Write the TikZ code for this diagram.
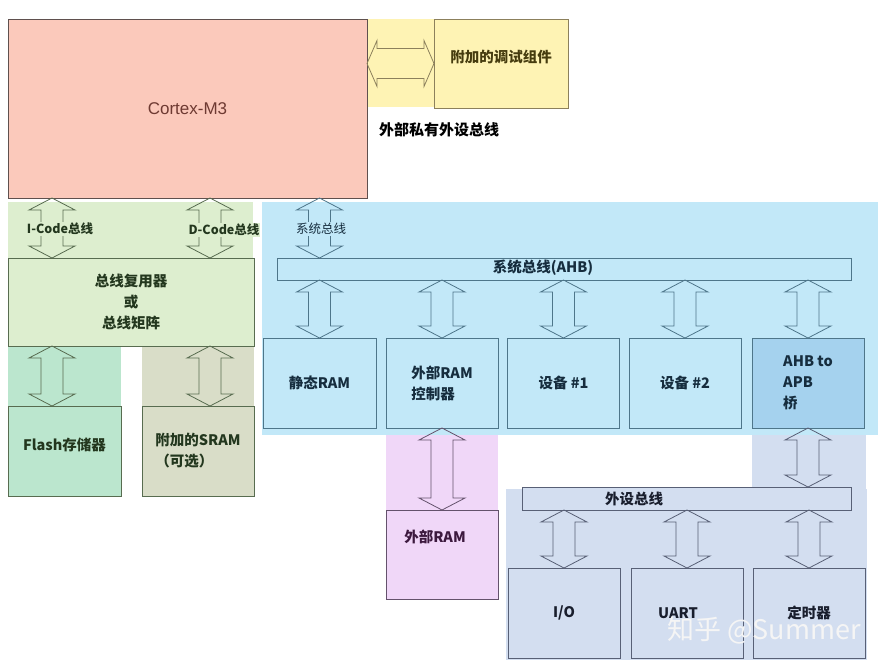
\documentclass[tikz,border=0pt]{standalone}
\usepackage{fontspec}
\setmainfont{Noto Sans CJK SC}
\newfontfamily\cortexfont{Liberation Sans}
\usetikzlibrary{calc}
\definecolor{cpuRed}{RGB}{251,201,187}
\definecolor{cpuLine}{RGB}{95,80,78}
\definecolor{cpuText}{RGB}{110,58,50}
\definecolor{dbgYellow}{RGB}{254,243,180}
\definecolor{dbgLine}{RGB}{140,128,92}
\definecolor{dbgText}{RGB}{70,60,15}
\definecolor{codeGreen}{RGB}{221,238,207}
\definecolor{flashGreen}{RGB}{187,230,206}
\definecolor{sramOlive}{RGB}{217,221,200}
\definecolor{greenLine}{RGB}{88,108,80}
\definecolor{greenText}{RGB}{35,55,30}
\definecolor{ahbBlue}{RGB}{194,232,248}
\definecolor{bridgeBlue}{RGB}{165,210,238}
\definecolor{blueLine}{RGB}{78,118,138}
\definecolor{blueText}{RGB}{22,45,62}
\definecolor{extPurple}{RGB}{240,215,248}
\definecolor{purpleLine}{RGB}{100,82,108}
\definecolor{purpleText}{RGB}{60,25,62}
\definecolor{apbGray}{RGB}{211,222,240}
\definecolor{apbLine}{RGB}{88,96,118}
\definecolor{apbText}{RGB}{25,30,45}

% block arrows between two anchors
\newcommand{\vbus}[3][]{\draw[busarrow,#1] let \p1=(#2), \p2=(#3) in
  (\x1,\y1) -- (\x1+23pt,\y1-12pt) -- (\x1+11pt,\y1-12pt) -- (\x1+11pt,\y2+12pt)
  -- (\x1+23pt,\y2+12pt) -- (\x1,\y2) -- (\x1-23pt,\y2+12pt) -- (\x1-11pt,\y2+12pt)
  -- (\x1-11pt,\y1-12pt) -- (\x1-23pt,\y1-12pt) -- cycle;}
\newcommand{\hbus}[3][]{\draw[busarrow,#1] let \p1=(#2), \p2=(#3) in
  (\x1,\y1) -- (\x1+10pt,\y1+23pt) -- (\x1+10pt,\y1+15pt) -- (\x2-10pt,\y1+15pt)
  -- (\x2-10pt,\y1+23pt) -- (\x2,\y1) -- (\x2-10pt,\y1-23pt) -- (\x2-10pt,\y1-15pt)
  -- (\x1+10pt,\y1-15pt) -- (\x1+10pt,\y1-23pt) -- cycle;}

\begin{document}
\begin{tikzpicture}[x=1pt,y=-1pt]
\tikzstyle{box} = [draw, outer sep=0pt, inner sep=2pt, minimum width=112pt, minimum height=90pt, line width=0.8pt, align=center, font=\fontsize{14.5}{21}\selectfont\bfseries]
\tikzstyle{bar} = [draw=blueLine, fill=ahbBlue, outer sep=0pt, inner sep=0pt, line width=0.8pt]
\tikzstyle{busarrow} = [draw=blueLine, line width=0.8pt, line join=miter]
\tikzstyle{txt} = [inner sep=1pt, font=\fontsize{14.5}{21}\selectfont\bfseries]
\tikzstyle{buslabel} = [inner sep=1pt, font=\fontsize{12.5}{14}\selectfont\bfseries, text=greenText]
\useasboundingbox (0,0) rectangle (880,663);

% coloured areas
\fill[dbgYellow] (367,19) rectangle (568,107);
\fill[codeGreen] (8,202) rectangle (253,258);
\fill[flashGreen] (8,346) rectangle (121,406);
\fill[sramOlive] (142,346) rectangle (254,406);
\fill[extPurple] (386,435) rectangle (498,510);
\fill[apbGray] (752,435) rectangle (866,489);
\fill[apbGray] (506,489) rectangle (867,660);
\fill[ahbBlue] (262,202) rectangle (878,435);

% core and private bus
\node[box, draw=cpuLine, fill=cpuRed, minimum width=359pt, minimum height=179pt, text=cpuText, font=\cortexfont\fontsize{17}{20}\selectfont] (cpu) at (187.5,108.5) {Cortex-M3};
\node[box, draw=dbgLine, fill=dbgYellow, minimum width=134pt, minimum height=89pt, text=dbgText, text depth=14pt] (dbg) at (501,63.5) {附加的调试组件};
\node[txt, text=black, font=\fontsize{15}{21}\selectfont\bfseries] (pplbl) at (439,130) {外部私有外设总线};
\hbus[draw=dbgLine]{cpu.east |- dbg.west}{dbg.west}

% code buses
\coordinate (ilane) at (52,0);
\coordinate (dlane) at (210,0);
\node[box, draw=greenLine, fill=codeGreen, minimum width=246pt, minimum height=88pt, text=greenText] (mux) at (131,302) {总线复用器\\或\\总线矩阵};
\node[box, draw=greenLine, fill=flashGreen, minimum width=113pt, text=greenText, text depth=13pt] (flash) at (64.5,451) {Flash存储器};
\node[box, draw=greenLine, fill=sramOlive, text=greenText, align=left] (sram) at (198,451) {附加的SRAM\\（可选）};
\vbus[draw=greenLine]{cpu.south -| ilane}{mux.north -| ilane}
\vbus[draw=greenLine]{cpu.south -| dlane}{mux.north -| dlane}
\vbus[draw=greenLine]{mux.south -| ilane}{flash.north -| ilane}
\vbus[draw=greenLine]{mux.south -| dlane}{sram.north -| dlane}
\node[buslabel, fill=codeGreen] (ilbl) at (60,229) {I-Code总线};
\node[buslabel, fill=codeGreen] (dlbl) at (224,230) {D-Code总线};

% AHB
\node[bar, minimum width=574pt, minimum height=22pt] (ahb) at (564,269) {};
\node[txt, text=blueText, font=\fontsize{14.5}{16}\selectfont\bfseries] (ahblbl) at (543,268) {系统总线(AHB)};
\node[box, draw=blueLine, fill=ahbBlue, minimum width=113pt, text=blueText] (statram) at (319.5,383) {静态RAM};
\node[box, draw=blueLine, fill=ahbBlue, text=blueText, align=left] (extctl) at (442,383) {外部RAM\\控制器};
\node[box, draw=blueLine, fill=ahbBlue, text=blueText] (dev1) at (563.5,383) {设备 \#1};
\node[box, draw=blueLine, fill=ahbBlue, text=blueText] (dev2) at (685,383) {设备 \#2};
\node[box, draw=blueLine, fill=bridgeBlue, text=blueText, align=left] (bridge) at (808,383) {AHB to\\APB\\桥};
\vbus{cpu.south -| statram}{ahb.north -| statram}
\node[buslabel, fill=ahbBlue, text=blueText, font=\fontsize{12.5}{14}\selectfont] (slbl) at (321,229) {系统总线};
\vbus{ahb.south -| statram}{statram.north}
\vbus{ahb.south -| extctl}{extctl.north}
\vbus{ahb.south -| dev1}{dev1.north}
\vbus{ahb.south -| dev2}{dev2.north}
\vbus{ahb.south -| bridge}{bridge.north}

% external RAM
\node[box, draw=purpleLine, fill=extPurple, minimum height=89pt] (extram) at (442,554.5) {};
\node[txt, text=purpleText, xshift=-7pt, yshift=17.5pt] (extramlbl) at (extram) {外部RAM};
\vbus[draw=purpleLine]{extctl.south}{extram.north}

% APB
\node[bar, draw=apbLine, fill=apbGray, minimum width=329pt, minimum height=23pt] (apb) at (686.5,498.5) {};
\node[txt, text=apbText] (apblbl) at (634,499) {外设总线};
\node[box, draw=apbLine, fill=apbGray, text=apbText] (io) at (564,613) {I/O};
\node[box, draw=apbLine, fill=apbGray, text=apbText] (uart) at (687,613) {\hspace*{-18pt}UART};
\node[box, draw=apbLine, fill=apbGray, text=apbText] (tmr) at (809,613) {定时器};
\vbus[draw=apbLine]{bridge.south}{apb.north -| bridge}
\vbus[draw=apbLine]{apb.south -| io}{io.north}
\vbus[draw=apbLine]{apb.south -| uart}{uart.north}
\vbus[draw=apbLine]{apb.south -| tmr}{tmr.north}

\node[text=white!92!gray, font=\fontsize{27}{30}\selectfont] (mark) at (764,630) {知乎 @Summer};
\end{tikzpicture}
\end{document}
